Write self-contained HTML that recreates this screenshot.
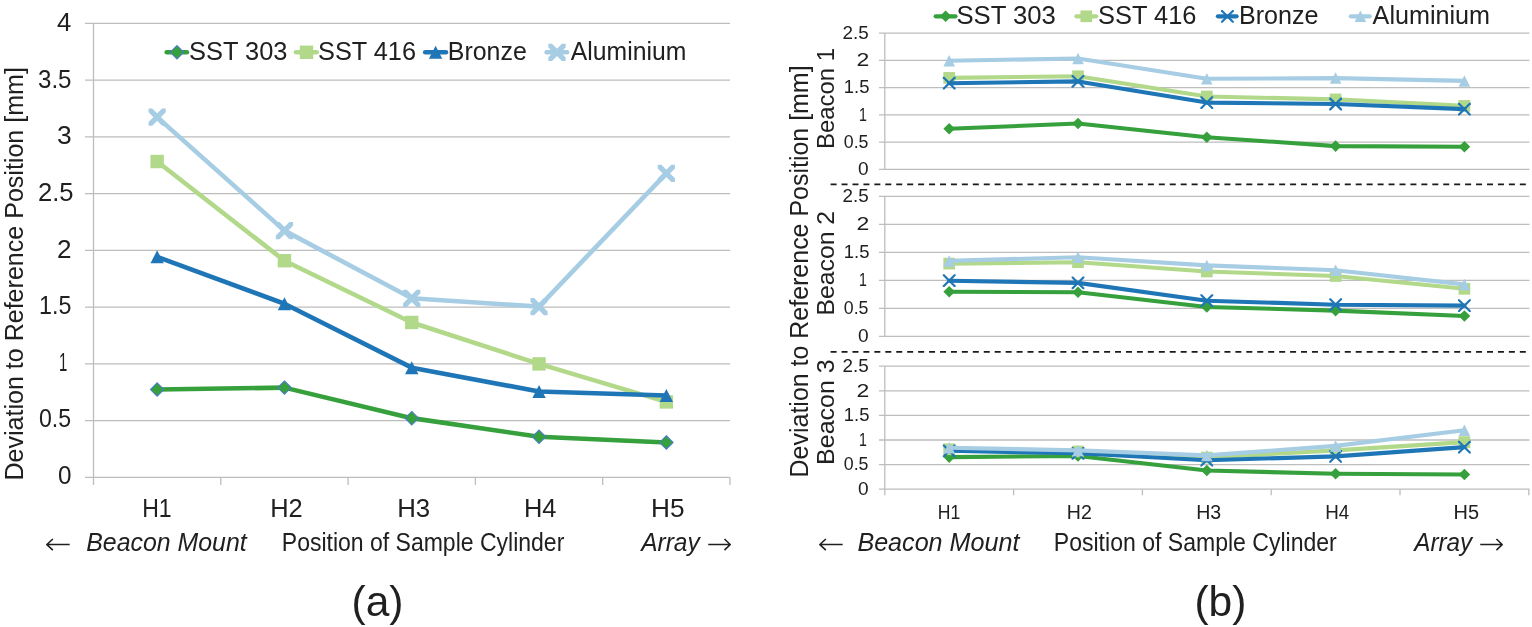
<!DOCTYPE html>
<html><head><meta charset="utf-8"><title>Figure</title>
<style>html,body{margin:0;padding:0;background:#fff;overflow:hidden}svg{display:block}</style>
</head><body>
<svg width="1532" height="627" viewBox="0 0 1532 627" font-family='"Liberation Sans", Arial, sans-serif' fill="#202020">
<rect width="1532" height="627" fill="#fff"/>
<line x1="85" y1="477.4" x2="730" y2="477.4" stroke="#bdbdbd" stroke-width="1.3" />
<line x1="85" y1="420.65" x2="730" y2="420.65" stroke="#bdbdbd" stroke-width="1.3" />
<line x1="85" y1="363.9" x2="730" y2="363.9" stroke="#bdbdbd" stroke-width="1.3" />
<line x1="85" y1="307.15" x2="730" y2="307.15" stroke="#bdbdbd" stroke-width="1.3" />
<line x1="85" y1="250.4" x2="730" y2="250.4" stroke="#bdbdbd" stroke-width="1.3" />
<line x1="85" y1="193.65" x2="730" y2="193.65" stroke="#bdbdbd" stroke-width="1.3" />
<line x1="85" y1="136.9" x2="730" y2="136.9" stroke="#bdbdbd" stroke-width="1.3" />
<line x1="85" y1="80.15" x2="730" y2="80.15" stroke="#bdbdbd" stroke-width="1.3" />
<line x1="85" y1="23.4" x2="730" y2="23.4" stroke="#bdbdbd" stroke-width="1.3" />
<line x1="93.5" y1="23.4" x2="93.5" y2="485" stroke="#bdbdbd" stroke-width="1.3" />
<line x1="220.8" y1="477.4" x2="220.8" y2="485" stroke="#bdbdbd" stroke-width="1.3" />
<line x1="348.1" y1="477.4" x2="348.1" y2="485" stroke="#bdbdbd" stroke-width="1.3" />
<line x1="475.4" y1="477.4" x2="475.4" y2="485" stroke="#bdbdbd" stroke-width="1.3" />
<line x1="602.7" y1="477.4" x2="602.7" y2="485" stroke="#bdbdbd" stroke-width="1.3" />
<line x1="730" y1="477.4" x2="730" y2="485" stroke="#bdbdbd" stroke-width="1.3" />
<polyline points="157.15,389.55 284.45,387.62 411.75,418.15 539.05,436.77 666.35,442.44" fill="none" stroke="#35a03c" stroke-width="4.6" stroke-linejoin="round" stroke-linecap="round" />
<polygon points="157.15,382.85 163.85,389.55 157.15,396.25 150.45,389.55" fill="#35a03c" stroke="#4a7cc4" stroke-width="1.1"/>
<polygon points="284.45,380.92 291.15,387.62 284.45,394.32 277.75,387.62" fill="#35a03c" stroke="#4a7cc4" stroke-width="1.1"/>
<polygon points="411.75,411.45 418.45,418.15 411.75,424.85 405.05,418.15" fill="#35a03c" stroke="#4a7cc4" stroke-width="1.1"/>
<polygon points="539.05,430.07 545.75,436.77 539.05,443.47 532.35,436.77" fill="#35a03c" stroke="#4a7cc4" stroke-width="1.1"/>
<polygon points="666.35,435.74 673.05,442.44 666.35,449.14 659.65,442.44" fill="#35a03c" stroke="#4a7cc4" stroke-width="1.1"/>
<polyline points="157.15,161.53 284.45,260.73 411.75,322.47 539.05,363.9 666.35,401.92" fill="none" stroke="#b2d88a" stroke-width="4.6" stroke-linejoin="round" stroke-linecap="round" />
<rect x="150.45" y="154.83" width="13.4" height="13.4" fill="#b2d88a"/>
<rect x="277.75" y="254.03" width="13.4" height="13.4" fill="#b2d88a"/>
<rect x="405.05" y="315.77" width="13.4" height="13.4" fill="#b2d88a"/>
<rect x="532.35" y="357.2" width="13.4" height="13.4" fill="#b2d88a"/>
<rect x="659.65" y="395.22" width="13.4" height="13.4" fill="#b2d88a"/>
<polyline points="157.15,256.87 284.45,303.75 411.75,367.65 539.05,391.48 666.35,395.57" fill="none" stroke="#1f76b6" stroke-width="4.6" stroke-linejoin="round" stroke-linecap="round" />
<polygon points="157.15,250.37 163.85,263.37 150.45,263.37" fill="#1f76b6"/>
<polygon points="284.45,297.25 291.15,310.25 277.75,310.25" fill="#1f76b6"/>
<polygon points="411.75,361.15 418.45,374.15 405.05,374.15" fill="#1f76b6"/>
<polygon points="539.05,384.98 545.75,397.98 532.35,397.98" fill="#1f76b6"/>
<polygon points="666.35,389.07 673.05,402.07 659.65,402.07" fill="#1f76b6"/>
<polyline points="157.15,117.15 284.45,230.65 411.75,298.3 539.05,306.58 666.35,173.33" fill="none" stroke="#a6cde3" stroke-width="4.6" stroke-linejoin="round" stroke-linecap="round" />
<polygon points="148.55,108.55 152.23,108.55 165.75,122.07 165.75,125.75 162.07,125.75 148.55,112.23" fill="#a6cde3"/>
<polygon points="165.75,108.55 165.75,112.23 152.23,125.75 148.55,125.75 148.55,122.07 162.07,108.55" fill="#a6cde3"/>
<polygon points="275.85,222.05 279.53,222.05 293.05,235.57 293.05,239.25 289.37,239.25 275.85,225.73" fill="#a6cde3"/>
<polygon points="293.05,222.05 293.05,225.73 279.53,239.25 275.85,239.25 275.85,235.57 289.37,222.05" fill="#a6cde3"/>
<polygon points="403.15,289.7 406.83,289.7 420.35,303.22 420.35,306.9 416.67,306.9 403.15,293.37" fill="#a6cde3"/>
<polygon points="420.35,289.7 420.35,293.37 406.83,306.9 403.15,306.9 403.15,303.22 416.67,289.7" fill="#a6cde3"/>
<polygon points="530.45,297.98 534.13,297.98 547.65,311.51 547.65,315.18 543.97,315.18 530.45,301.66" fill="#a6cde3"/>
<polygon points="547.65,297.98 547.65,301.66 534.13,315.18 530.45,315.18 530.45,311.51 543.97,297.98" fill="#a6cde3"/>
<polygon points="657.75,164.73 661.43,164.73 674.95,178.26 674.95,181.93 671.27,181.93 657.75,168.41" fill="#a6cde3"/>
<polygon points="674.95,164.73 674.95,168.41 661.43,181.93 657.75,181.93 657.75,178.26 671.27,164.73" fill="#a6cde3"/>
<line x1="166.75" y1="52.3" x2="186.9" y2="52.3" stroke="#35a03c" stroke-width="4.6" stroke-linecap="round"/>
<polygon points="177,45.6 183.7,52.3 177,59 170.3,52.3" fill="#35a03c" stroke="#4a7cc4" stroke-width="1.1"/>
<line x1="296" y1="52.3" x2="316.7" y2="52.3" stroke="#b2d88a" stroke-width="4.6" stroke-linecap="round"/>
<rect x="299.8" y="45.6" width="13.4" height="13.4" fill="#b2d88a"/>
<line x1="425.2" y1="52.3" x2="446" y2="52.3" stroke="#1f76b6" stroke-width="4.6" stroke-linecap="round"/>
<polygon points="435.6,45.8 442.3,58.8 428.9,58.8" fill="#1f76b6"/>
<line x1="546.7" y1="52.3" x2="567" y2="52.3" stroke="#a6cde3" stroke-width="4.6" stroke-linecap="round"/>
<polygon points="548.4,43.7 552.08,43.7 565.6,57.22 565.6,60.9 561.92,60.9 548.4,47.38" fill="#a6cde3"/>
<polygon points="565.6,43.7 565.6,47.38 552.08,60.9 548.4,60.9 548.4,57.22 561.92,43.7" fill="#a6cde3"/>
<text x="377.5" y="616" font-size="42.5" text-anchor="middle">(a)</text>
<line x1="879" y1="169.4" x2="1529.5" y2="169.4" stroke="#bdbdbd" stroke-width="1.3" />
<line x1="879" y1="142.16" x2="1529.5" y2="142.16" stroke="#bdbdbd" stroke-width="1.3" />
<line x1="879" y1="114.92" x2="1529.5" y2="114.92" stroke="#bdbdbd" stroke-width="1.3" />
<line x1="879" y1="87.68" x2="1529.5" y2="87.68" stroke="#bdbdbd" stroke-width="1.3" />
<line x1="879" y1="60.44" x2="1529.5" y2="60.44" stroke="#bdbdbd" stroke-width="1.3" />
<line x1="879" y1="33.2" x2="1529.5" y2="33.2" stroke="#bdbdbd" stroke-width="1.3" />
<line x1="884.8" y1="33.2" x2="884.8" y2="169.4" stroke="#bdbdbd" stroke-width="1.3" />
<polyline points="949.2,128.8 1078,123.5 1206.8,137.2 1335.6,146.1 1464.4,146.8" fill="none" stroke="#35a03c" stroke-width="4.1" stroke-linejoin="round" stroke-linecap="round" />
<polygon points="949.2,123 955,128.8 949.2,134.6 943.4,128.8" fill="#35a03c"/>
<polygon points="1078,117.7 1083.8,123.5 1078,129.3 1072.2,123.5" fill="#35a03c"/>
<polygon points="1206.8,131.4 1212.6,137.2 1206.8,143 1201,137.2" fill="#35a03c"/>
<polygon points="1335.6,140.3 1341.4,146.1 1335.6,151.9 1329.8,146.1" fill="#35a03c"/>
<polygon points="1464.4,141 1470.2,146.8 1464.4,152.6 1458.6,146.8" fill="#35a03c"/>
<polyline points="949.2,77.9 1078,76.3 1206.8,96.5 1335.6,99.4 1464.4,105.9" fill="none" stroke="#b2d88a" stroke-width="4.1" stroke-linejoin="round" stroke-linecap="round" />
<rect x="943.35" y="72.05" width="11.7" height="11.7" fill="#b2d88a"/>
<rect x="1072.15" y="70.45" width="11.7" height="11.7" fill="#b2d88a"/>
<rect x="1200.95" y="90.65" width="11.7" height="11.7" fill="#b2d88a"/>
<rect x="1329.75" y="93.55" width="11.7" height="11.7" fill="#b2d88a"/>
<rect x="1458.55" y="100.05" width="11.7" height="11.7" fill="#b2d88a"/>
<polyline points="949.2,83.2 1078,81.4 1206.8,102.6 1335.6,104 1464.4,109.1" fill="none" stroke="#1f76b6" stroke-width="4.1" stroke-linejoin="round" stroke-linecap="round" />
<polygon points="942.8,76.8 944.36,76.8 955.6,88.04 955.6,89.6 954.04,89.6 942.8,78.36" fill="#1f76b6"/>
<polygon points="955.6,76.8 955.6,78.36 944.36,89.6 942.8,89.6 942.8,88.04 954.04,76.8" fill="#1f76b6"/>
<polygon points="1071.6,75 1073.16,75 1084.4,86.24 1084.4,87.8 1082.84,87.8 1071.6,76.56" fill="#1f76b6"/>
<polygon points="1084.4,75 1084.4,76.56 1073.16,87.8 1071.6,87.8 1071.6,86.24 1082.84,75" fill="#1f76b6"/>
<polygon points="1200.4,96.2 1201.96,96.2 1213.2,107.44 1213.2,109 1211.64,109 1200.4,97.76" fill="#1f76b6"/>
<polygon points="1213.2,96.2 1213.2,97.76 1201.96,109 1200.4,109 1200.4,107.44 1211.64,96.2" fill="#1f76b6"/>
<polygon points="1329.2,97.6 1330.76,97.6 1342,108.84 1342,110.4 1340.44,110.4 1329.2,99.16" fill="#1f76b6"/>
<polygon points="1342,97.6 1342,99.16 1330.76,110.4 1329.2,110.4 1329.2,108.84 1340.44,97.6" fill="#1f76b6"/>
<polygon points="1458,102.7 1459.56,102.7 1470.8,113.94 1470.8,115.5 1469.24,115.5 1458,104.26" fill="#1f76b6"/>
<polygon points="1470.8,102.7 1470.8,104.26 1459.56,115.5 1458,115.5 1458,113.94 1469.24,102.7" fill="#1f76b6"/>
<polyline points="949.2,60.8 1078,58.5 1206.8,78.8 1335.6,78.1 1464.4,80.9" fill="none" stroke="#a6cde3" stroke-width="4.1" stroke-linejoin="round" stroke-linecap="round" />
<polygon points="949.2,55.05 955,66.55 943.4,66.55" fill="#a6cde3"/>
<polygon points="1078,52.75 1083.8,64.25 1072.2,64.25" fill="#a6cde3"/>
<polygon points="1206.8,73.05 1212.6,84.55 1201,84.55" fill="#a6cde3"/>
<polygon points="1335.6,72.35 1341.4,83.85 1329.8,83.85" fill="#a6cde3"/>
<polygon points="1464.4,75.15 1470.2,86.65 1458.6,86.65" fill="#a6cde3"/>
<line x1="879" y1="336.3" x2="1529.5" y2="336.3" stroke="#bdbdbd" stroke-width="1.3" />
<line x1="879" y1="308.32" x2="1529.5" y2="308.32" stroke="#bdbdbd" stroke-width="1.3" />
<line x1="879" y1="280.34" x2="1529.5" y2="280.34" stroke="#bdbdbd" stroke-width="1.3" />
<line x1="879" y1="252.36" x2="1529.5" y2="252.36" stroke="#bdbdbd" stroke-width="1.3" />
<line x1="879" y1="224.38" x2="1529.5" y2="224.38" stroke="#bdbdbd" stroke-width="1.3" />
<line x1="879" y1="196.4" x2="1529.5" y2="196.4" stroke="#bdbdbd" stroke-width="1.3" />
<line x1="884.8" y1="196.4" x2="884.8" y2="336.3" stroke="#bdbdbd" stroke-width="1.3" />
<polyline points="949.2,291.8 1078,292.3 1206.8,307 1335.6,310.6 1464.4,316" fill="none" stroke="#35a03c" stroke-width="4.1" stroke-linejoin="round" stroke-linecap="round" />
<polygon points="949.2,286 955,291.8 949.2,297.6 943.4,291.8" fill="#35a03c"/>
<polygon points="1078,286.5 1083.8,292.3 1078,298.1 1072.2,292.3" fill="#35a03c"/>
<polygon points="1206.8,301.2 1212.6,307 1206.8,312.8 1201,307" fill="#35a03c"/>
<polygon points="1335.6,304.8 1341.4,310.6 1335.6,316.4 1329.8,310.6" fill="#35a03c"/>
<polygon points="1464.4,310.2 1470.2,316 1464.4,321.8 1458.6,316" fill="#35a03c"/>
<polyline points="949.2,263.6 1078,262.2 1206.8,271.5 1335.6,276 1464.4,288.8" fill="none" stroke="#b2d88a" stroke-width="4.1" stroke-linejoin="round" stroke-linecap="round" />
<rect x="943.35" y="257.75" width="11.7" height="11.7" fill="#b2d88a"/>
<rect x="1072.15" y="256.35" width="11.7" height="11.7" fill="#b2d88a"/>
<rect x="1200.95" y="265.65" width="11.7" height="11.7" fill="#b2d88a"/>
<rect x="1329.75" y="270.15" width="11.7" height="11.7" fill="#b2d88a"/>
<rect x="1458.55" y="282.95" width="11.7" height="11.7" fill="#b2d88a"/>
<polyline points="949.2,280.7 1078,282.9 1206.8,300.7 1335.6,304.7 1464.4,305.6" fill="none" stroke="#1f76b6" stroke-width="4.1" stroke-linejoin="round" stroke-linecap="round" />
<polygon points="942.8,274.3 944.36,274.3 955.6,285.54 955.6,287.1 954.04,287.1 942.8,275.86" fill="#1f76b6"/>
<polygon points="955.6,274.3 955.6,275.86 944.36,287.1 942.8,287.1 942.8,285.54 954.04,274.3" fill="#1f76b6"/>
<polygon points="1071.6,276.5 1073.16,276.5 1084.4,287.74 1084.4,289.3 1082.84,289.3 1071.6,278.06" fill="#1f76b6"/>
<polygon points="1084.4,276.5 1084.4,278.06 1073.16,289.3 1071.6,289.3 1071.6,287.74 1082.84,276.5" fill="#1f76b6"/>
<polygon points="1200.4,294.3 1201.96,294.3 1213.2,305.54 1213.2,307.1 1211.64,307.1 1200.4,295.86" fill="#1f76b6"/>
<polygon points="1213.2,294.3 1213.2,295.86 1201.96,307.1 1200.4,307.1 1200.4,305.54 1211.64,294.3" fill="#1f76b6"/>
<polygon points="1329.2,298.3 1330.76,298.3 1342,309.54 1342,311.1 1340.44,311.1 1329.2,299.86" fill="#1f76b6"/>
<polygon points="1342,298.3 1342,299.86 1330.76,311.1 1329.2,311.1 1329.2,309.54 1340.44,298.3" fill="#1f76b6"/>
<polygon points="1458,299.2 1459.56,299.2 1470.8,310.44 1470.8,312 1469.24,312 1458,300.76" fill="#1f76b6"/>
<polygon points="1470.8,299.2 1470.8,300.76 1459.56,312 1458,312 1458,310.44 1469.24,299.2" fill="#1f76b6"/>
<polyline points="949.2,260.9 1078,257.2 1206.8,265.4 1335.6,270.3 1464.4,284.4" fill="none" stroke="#a6cde3" stroke-width="4.1" stroke-linejoin="round" stroke-linecap="round" />
<polygon points="949.2,255.15 955,266.65 943.4,266.65" fill="#a6cde3"/>
<polygon points="1078,251.45 1083.8,262.95 1072.2,262.95" fill="#a6cde3"/>
<polygon points="1206.8,259.65 1212.6,271.15 1201,271.15" fill="#a6cde3"/>
<polygon points="1335.6,264.55 1341.4,276.05 1329.8,276.05" fill="#a6cde3"/>
<polygon points="1464.4,278.65 1470.2,290.15 1458.6,290.15" fill="#a6cde3"/>
<line x1="879" y1="489.2" x2="1529.5" y2="489.2" stroke="#bdbdbd" stroke-width="1.3" />
<line x1="879" y1="464.6" x2="1529.5" y2="464.6" stroke="#bdbdbd" stroke-width="1.3" />
<line x1="879" y1="440" x2="1529.5" y2="440" stroke="#bdbdbd" stroke-width="1.3" />
<line x1="879" y1="415.4" x2="1529.5" y2="415.4" stroke="#bdbdbd" stroke-width="1.3" />
<line x1="879" y1="390.8" x2="1529.5" y2="390.8" stroke="#bdbdbd" stroke-width="1.3" />
<line x1="879" y1="366.2" x2="1529.5" y2="366.2" stroke="#bdbdbd" stroke-width="1.3" />
<line x1="884.8" y1="366.2" x2="884.8" y2="495.2" stroke="#bdbdbd" stroke-width="1.3" />
<polyline points="949.2,457.1 1078,456 1206.8,470.5 1335.6,473.8 1464.4,474.5" fill="none" stroke="#35a03c" stroke-width="4.1" stroke-linejoin="round" stroke-linecap="round" />
<polygon points="949.2,451.3 955,457.1 949.2,462.9 943.4,457.1" fill="#35a03c"/>
<polygon points="1078,450.2 1083.8,456 1078,461.8 1072.2,456" fill="#35a03c"/>
<polygon points="1206.8,464.7 1212.6,470.5 1206.8,476.3 1201,470.5" fill="#35a03c"/>
<polygon points="1335.6,468 1341.4,473.8 1335.6,479.6 1329.8,473.8" fill="#35a03c"/>
<polygon points="1464.4,468.7 1470.2,474.5 1464.4,480.3 1458.6,474.5" fill="#35a03c"/>
<polyline points="949.2,449.3 1078,451.5 1206.8,457.6 1335.6,450.4 1464.4,442.1" fill="none" stroke="#b2d88a" stroke-width="4.1" stroke-linejoin="round" stroke-linecap="round" />
<rect x="943.35" y="443.45" width="11.7" height="11.7" fill="#b2d88a"/>
<rect x="1072.15" y="445.65" width="11.7" height="11.7" fill="#b2d88a"/>
<rect x="1200.95" y="451.75" width="11.7" height="11.7" fill="#b2d88a"/>
<rect x="1329.75" y="444.55" width="11.7" height="11.7" fill="#b2d88a"/>
<rect x="1458.55" y="436.25" width="11.7" height="11.7" fill="#b2d88a"/>
<polyline points="949.2,450.8 1078,453.3 1206.8,460.2 1335.6,456.4 1464.4,447.1" fill="none" stroke="#1f76b6" stroke-width="4.1" stroke-linejoin="round" stroke-linecap="round" />
<polygon points="942.8,444.4 944.36,444.4 955.6,455.64 955.6,457.2 954.04,457.2 942.8,445.96" fill="#1f76b6"/>
<polygon points="955.6,444.4 955.6,445.96 944.36,457.2 942.8,457.2 942.8,455.64 954.04,444.4" fill="#1f76b6"/>
<polygon points="1071.6,446.9 1073.16,446.9 1084.4,458.14 1084.4,459.7 1082.84,459.7 1071.6,448.46" fill="#1f76b6"/>
<polygon points="1084.4,446.9 1084.4,448.46 1073.16,459.7 1071.6,459.7 1071.6,458.14 1082.84,446.9" fill="#1f76b6"/>
<polygon points="1200.4,453.8 1201.96,453.8 1213.2,465.04 1213.2,466.6 1211.64,466.6 1200.4,455.36" fill="#1f76b6"/>
<polygon points="1213.2,453.8 1213.2,455.36 1201.96,466.6 1200.4,466.6 1200.4,465.04 1211.64,453.8" fill="#1f76b6"/>
<polygon points="1329.2,450 1330.76,450 1342,461.24 1342,462.8 1340.44,462.8 1329.2,451.56" fill="#1f76b6"/>
<polygon points="1342,450 1342,451.56 1330.76,462.8 1329.2,462.8 1329.2,461.24 1340.44,450" fill="#1f76b6"/>
<polygon points="1458,440.7 1459.56,440.7 1470.8,451.94 1470.8,453.5 1469.24,453.5 1458,442.26" fill="#1f76b6"/>
<polygon points="1470.8,440.7 1470.8,442.26 1459.56,453.5 1458,453.5 1458,451.94 1469.24,440.7" fill="#1f76b6"/>
<polyline points="949.2,447.7 1078,450.4 1206.8,455.4 1335.6,445.9 1464.4,430.3" fill="none" stroke="#a6cde3" stroke-width="4.1" stroke-linejoin="round" stroke-linecap="round" />
<polygon points="949.2,441.95 955,453.45 943.4,453.45" fill="#a6cde3"/>
<polygon points="1078,444.65 1083.8,456.15 1072.2,456.15" fill="#a6cde3"/>
<polygon points="1206.8,449.65 1212.6,461.15 1201,461.15" fill="#a6cde3"/>
<polygon points="1335.6,440.15 1341.4,451.65 1329.8,451.65" fill="#a6cde3"/>
<polygon points="1464.4,424.55 1470.2,436.05 1458.6,436.05" fill="#a6cde3"/>
<line x1="1013.6" y1="489.2" x2="1013.6" y2="495.3" stroke="#bdbdbd" stroke-width="1.3" />
<line x1="1142.4" y1="489.2" x2="1142.4" y2="495.3" stroke="#bdbdbd" stroke-width="1.3" />
<line x1="1271.2" y1="489.2" x2="1271.2" y2="495.3" stroke="#bdbdbd" stroke-width="1.3" />
<line x1="1400" y1="489.2" x2="1400" y2="495.3" stroke="#bdbdbd" stroke-width="1.3" />
<line x1="1528.8" y1="489.2" x2="1528.8" y2="495.3" stroke="#bdbdbd" stroke-width="1.3" />
<line x1="830.6" y1="184.3" x2="1525.8" y2="184.3" stroke="#1a1a1a" stroke-width="1.7" stroke-dasharray="6 4.94"/>
<line x1="830.6" y1="351.8" x2="1525.8" y2="351.8" stroke="#1a1a1a" stroke-width="1.7" stroke-dasharray="6 4.94"/>
<line x1="935.7" y1="16.3" x2="955.5" y2="16.3" stroke="#35a03c" stroke-width="4.2" stroke-linecap="round"/>
<polygon points="945.6,10.5 951.4,16.3 945.6,22.1 939.8,16.3" fill="#35a03c"/>
<line x1="1076.4" y1="16.3" x2="1096.2" y2="16.3" stroke="#b2d88a" stroke-width="4.2" stroke-linecap="round"/>
<rect x="1080.45" y="10.45" width="11.7" height="11.7" fill="#b2d88a"/>
<line x1="1217.9" y1="16.3" x2="1236.6" y2="16.3" stroke="#1f76b6" stroke-width="4.2" stroke-linecap="round"/>
<polygon points="1221,9.9 1222.56,9.9 1233.8,21.14 1233.8,22.7 1232.24,22.7 1221,11.46" fill="#1f76b6"/>
<polygon points="1233.8,9.9 1233.8,11.46 1222.56,22.7 1221,22.7 1221,21.14 1232.24,9.9" fill="#1f76b6"/>
<line x1="1350.8" y1="16.3" x2="1369.7" y2="16.3" stroke="#a6cde3" stroke-width="4.2" stroke-linecap="round"/>
<polygon points="1360.4,10.55 1366.2,22.05 1354.6,22.05" fill="#a6cde3"/>
<text x="1220.4" y="616" font-size="42.5" text-anchor="middle">(b)</text>
<text x="189" y="59.6" font-size="25.5" textLength="98.5" lengthAdjust="spacingAndGlyphs">SST 303</text>
<text x="318" y="59.6" font-size="25.5" textLength="98" lengthAdjust="spacingAndGlyphs">SST 416</text>
<text x="447.8" y="59.6" font-size="25.5" textLength="79" lengthAdjust="spacingAndGlyphs">Bronze</text>
<text x="570.8" y="59.6" font-size="25.5" textLength="115.5" lengthAdjust="spacingAndGlyphs">Aluminium</text>
<text x="956.4" y="23.8" font-size="25.5" textLength="99.5" lengthAdjust="spacingAndGlyphs">SST 303</text>
<text x="1098" y="23.8" font-size="25.5" textLength="98.5" lengthAdjust="spacingAndGlyphs">SST 416</text>
<text x="1239" y="23.8" font-size="25.5" textLength="79.5" lengthAdjust="spacingAndGlyphs">Bronze</text>
<text x="1372.6" y="23.8" font-size="25.5" textLength="117.5" lengthAdjust="spacingAndGlyphs">Aluminium</text>
<text x="142.2" y="517" font-size="25.5" textLength="29.5" lengthAdjust="spacingAndGlyphs">H1</text>
<text x="270.2" y="517" font-size="25.5" textLength="32.5" lengthAdjust="spacingAndGlyphs">H2</text>
<text x="397.2" y="517" font-size="25.5" textLength="33" lengthAdjust="spacingAndGlyphs">H3</text>
<text x="524" y="517" font-size="25.5" textLength="32.5" lengthAdjust="spacingAndGlyphs">H4</text>
<text x="651" y="517" font-size="25.5" textLength="33.5" lengthAdjust="spacingAndGlyphs">H5</text>
<text x="937.8" y="519" font-size="19.5" textLength="22.5" lengthAdjust="spacingAndGlyphs">H1</text>
<text x="1066.8" y="519" font-size="19.5" textLength="25" lengthAdjust="spacingAndGlyphs">H2</text>
<text x="1196.2" y="519" font-size="19.5" textLength="25" lengthAdjust="spacingAndGlyphs">H3</text>
<text x="1325.2" y="519" font-size="19.5" textLength="24" lengthAdjust="spacingAndGlyphs">H4</text>
<text x="1453.6" y="519" font-size="19.5" textLength="25.5" lengthAdjust="spacingAndGlyphs">H5</text>
<text x="86.2" y="550.9" font-size="25.5" font-style="italic" textLength="160.5" lengthAdjust="spacingAndGlyphs">Beacon Mount</text>
<text x="281.8" y="550.9" font-size="25.5" textLength="282.5" lengthAdjust="spacingAndGlyphs">Position of Sample Cylinder</text>
<text x="641.2" y="550.9" font-size="25.5" font-style="italic" textLength="58.5" lengthAdjust="spacingAndGlyphs">Array</text>
<text x="857.4" y="550.9" font-size="25.5" font-style="italic" textLength="162" lengthAdjust="spacingAndGlyphs">Beacon Mount</text>
<text x="1053.8" y="550.9" font-size="25.5" textLength="283" lengthAdjust="spacingAndGlyphs">Position of Sample Cylinder</text>
<text x="1414.2" y="550.9" font-size="25.5" font-style="italic" textLength="58" lengthAdjust="spacingAndGlyphs">Array</text>
<text x="44.8" y="553.9" font-size="30" font-family='"DejaVu Sans", sans-serif' font-weight="200" textLength="27" lengthAdjust="spacingAndGlyphs">&#8592;</text>
<text x="706.2" y="553.9" font-size="30" font-family='"DejaVu Sans", sans-serif' font-weight="200" textLength="26" lengthAdjust="spacingAndGlyphs">&#8594;</text>
<text x="817.8" y="553.9" font-size="30" font-family='"DejaVu Sans", sans-serif' font-weight="200" textLength="27" lengthAdjust="spacingAndGlyphs">&#8592;</text>
<text x="1478.2" y="553.9" font-size="30" font-family='"DejaVu Sans", sans-serif' font-weight="200" textLength="26" lengthAdjust="spacingAndGlyphs">&#8594;</text>
<text transform="translate(23.2,480.6) rotate(-90)" font-size="25.5" textLength="413.5" lengthAdjust="spacingAndGlyphs">Deviation to Reference Position [mm]</text>
<text transform="translate(807.7,477.4) rotate(-90)" font-size="25.5" textLength="412" lengthAdjust="spacingAndGlyphs">Deviation to Reference Position [mm]</text>
<text transform="translate(834.1,149) rotate(-90)" font-size="24.7" textLength="101" lengthAdjust="spacingAndGlyphs">Beacon 1</text>
<text transform="translate(834.1,315.4) rotate(-90)" font-size="24.7" textLength="104.5" lengthAdjust="spacingAndGlyphs">Beacon 2</text>
<text transform="translate(834.1,464.9) rotate(-90)" font-size="24.7" textLength="105.5" lengthAdjust="spacingAndGlyphs">Beacon 3</text>
<text x="58" y="483.9" font-size="25.5" textLength="13.5" lengthAdjust="spacingAndGlyphs">0</text>
<text x="39" y="427.3" font-size="25.5" textLength="32.1" lengthAdjust="spacingAndGlyphs">0.5</text>
<text x="59" y="370.7" font-size="25.5" textLength="8.3" lengthAdjust="spacingAndGlyphs">1</text>
<text x="39" y="314.1" font-size="25.5" textLength="32.3" lengthAdjust="spacingAndGlyphs">1.5</text>
<text x="57" y="257.5" font-size="25.5" textLength="14.5" lengthAdjust="spacingAndGlyphs">2</text>
<text x="38" y="200.9" font-size="25.5" textLength="35.6" lengthAdjust="spacingAndGlyphs">2.5</text>
<text x="57" y="144.3" font-size="25.5" textLength="14.7" lengthAdjust="spacingAndGlyphs">3</text>
<text x="38" y="87.7" font-size="25.5" textLength="33.5" lengthAdjust="spacingAndGlyphs">3.5</text>
<text x="57" y="31.1" font-size="25.5" textLength="14.3" lengthAdjust="spacingAndGlyphs">4</text>
<text x="858" y="175.2" font-size="18.3" textLength="10.6" lengthAdjust="spacingAndGlyphs">0</text>
<text x="843.8" y="147.96" font-size="18.3" textLength="24.7" lengthAdjust="spacingAndGlyphs">0.5</text>
<text x="859" y="120.72" font-size="18.3" textLength="7.9" lengthAdjust="spacingAndGlyphs">1</text>
<text x="843.8" y="93.48" font-size="18.3" textLength="25.7" lengthAdjust="spacingAndGlyphs">1.5</text>
<text x="856.6" y="66.24" font-size="18.3" textLength="12.8" lengthAdjust="spacingAndGlyphs">2</text>
<text x="842.6" y="39" font-size="18.3" textLength="26.2" lengthAdjust="spacingAndGlyphs">2.5</text>
<text x="858" y="342.1" font-size="18.3" textLength="10.6" lengthAdjust="spacingAndGlyphs">0</text>
<text x="843.8" y="314.12" font-size="18.3" textLength="24.7" lengthAdjust="spacingAndGlyphs">0.5</text>
<text x="859" y="286.14" font-size="18.3" textLength="7.9" lengthAdjust="spacingAndGlyphs">1</text>
<text x="843.8" y="258.16" font-size="18.3" textLength="25.7" lengthAdjust="spacingAndGlyphs">1.5</text>
<text x="856.6" y="230.18" font-size="18.3" textLength="12.8" lengthAdjust="spacingAndGlyphs">2</text>
<text x="842.6" y="202.2" font-size="18.3" textLength="26.2" lengthAdjust="spacingAndGlyphs">2.5</text>
<text x="858" y="495" font-size="18.3" textLength="10.6" lengthAdjust="spacingAndGlyphs">0</text>
<text x="843.8" y="470.4" font-size="18.3" textLength="24.7" lengthAdjust="spacingAndGlyphs">0.5</text>
<text x="859" y="445.8" font-size="18.3" textLength="7.9" lengthAdjust="spacingAndGlyphs">1</text>
<text x="843.8" y="421.2" font-size="18.3" textLength="25.7" lengthAdjust="spacingAndGlyphs">1.5</text>
<text x="856.6" y="396.6" font-size="18.3" textLength="12.8" lengthAdjust="spacingAndGlyphs">2</text>
<text x="842.6" y="372" font-size="18.3" textLength="26.2" lengthAdjust="spacingAndGlyphs">2.5</text>
</svg>
</body></html>
